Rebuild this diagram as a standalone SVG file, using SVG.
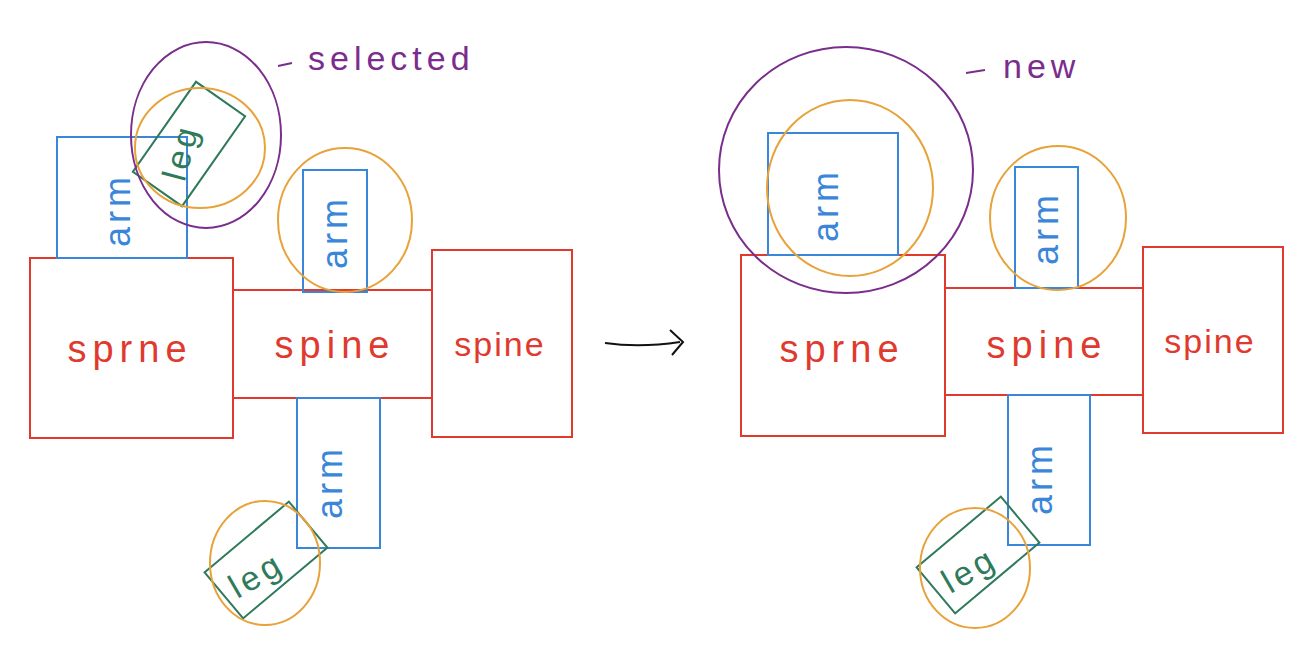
<svg xmlns="http://www.w3.org/2000/svg" width="1303" height="668" viewBox="0 0 1303 668">
<style>
.sp{fill:none;stroke:#e03a2f;stroke-width:2}
.ar{fill:none;stroke:#3a86d8;stroke-width:2}
.lg{fill:none;stroke:#2e7a5a;stroke-width:2}
.or{fill:none;stroke:#e8a23a;stroke-width:2}
.pu{fill:none;stroke:#7a2d8c;stroke-width:2}
.ts{font-family:"Liberation Sans",sans-serif;font-size:38px;fill:#e03a2f;letter-spacing:6px}
.ts2{font-family:"Liberation Sans",sans-serif;font-size:34px;fill:#e03a2f;letter-spacing:2px}
.ta{font-family:"Liberation Sans",sans-serif;font-size:36px;fill:#3a86d8;letter-spacing:4px}
.tl{font-family:"Liberation Sans",sans-serif;font-size:34px;fill:#2e7a5a;letter-spacing:4px}
.tp{font-family:"Liberation Sans",sans-serif;font-size:34px;fill:#7a2d8c;letter-spacing:5px}
</style>
<rect width="1303" height="668" fill="#fff"/>
<g id="left-spine1"><rect class="sp" x="30" y="258" width="203" height="180"/><text class="ts" x="130" y="362" text-anchor="middle">sprne</text></g>
<g id="left-spine2"><rect class="sp" x="233" y="290" width="199" height="108"/><text class="ts" x="335" y="358" text-anchor="middle">spine</text></g>
<g id="left-spine3"><rect class="sp" x="432" y="250" width="140" height="187"/><text class="ts2" x="500" y="356" text-anchor="middle">spine</text></g>
<g id="left-arm1"><rect class="ar" x="57" y="137" width="130" height="121"/><text class="ta" transform="translate(130,210) rotate(-90)" text-anchor="middle">arm</text></g>
<g id="left-leg1"><rect class="lg" x="-55" y="-30" width="110" height="60" transform="translate(189,144) rotate(-55)"/><text class="tl" transform="translate(192,155) rotate(-75)" text-anchor="middle">leg</text>
<ellipse class="or" cx="200" cy="148" rx="65" ry="60"/>
<ellipse class="pu" cx="206" cy="135" rx="75" ry="93"/>
<path class="pu" d="M278 66 L292 63"/><text class="tp" x="308" y="70">selected</text></g>
<g id="left-arm2"><rect class="ar" x="303" y="170" width="64" height="122"/><text class="ta" transform="translate(347,232) rotate(-90)" text-anchor="middle">arm</text><ellipse class="or" cx="345" cy="220" rx="67" ry="72"/></g>
<g id="left-arm3"><rect class="ar" x="297" y="398" width="83" height="150"/><text class="ta" transform="translate(342,482) rotate(-90)" text-anchor="middle">arm</text></g>
<g id="left-leg2"><rect class="lg" x="-55" y="-30" width="110" height="60" transform="translate(266,560) rotate(-40)"/><text class="tl" transform="translate(262,585) rotate(-30)" text-anchor="middle">leg</text><ellipse class="or" cx="265" cy="563" rx="55" ry="62"/></g>
<g id="connectors"><path d="M605 343 Q640 348 680 342" fill="none" stroke="#111" stroke-width="2"/><path d="M670 330 L683 342 L672 355" fill="none" stroke="#111" stroke-width="2"/></g>
<g id="right-spine1"><rect class="sp" x="741" y="255" width="204" height="181"/><text class="ts" x="842" y="362" text-anchor="middle">sprne</text></g>
<g id="right-spine2"><rect class="sp" x="945" y="288" width="198" height="107"/><text class="ts" x="1047" y="358" text-anchor="middle">spine</text></g>
<g id="right-spine3"><rect class="sp" x="1143" y="247" width="140" height="186"/><text class="ts2" x="1210" y="353" text-anchor="middle">spine</text></g>
<g id="right-arm1"><rect class="ar" x="768" y="133" width="130" height="122"/><text class="ta" transform="translate(838,205) rotate(-90)" text-anchor="middle">arm</text><ellipse class="or" cx="850" cy="188" rx="83" ry="88"/><ellipse class="pu" cx="846" cy="170" rx="127" ry="123"/><path class="pu" d="M966 73 L985 70"/><text class="tp" x="1003" y="78">new</text></g>
<g id="right-arm2"><rect class="ar" x="1015" y="167" width="63" height="121"/><text class="ta" transform="translate(1058,228) rotate(-90)" text-anchor="middle">arm</text><ellipse class="or" cx="1058" cy="218" rx="68" ry="72"/></g>
<g id="right-arm3"><rect class="ar" x="1008" y="395" width="82" height="150"/><text class="ta" transform="translate(1052,478) rotate(-90)" text-anchor="middle">arm</text></g>
<g id="right-leg2"><rect class="lg" x="-55" y="-30" width="110" height="60" transform="translate(978,555) rotate(-40)"/><text class="tl" transform="translate(975,580) rotate(-30)" text-anchor="middle">leg</text><ellipse class="or" cx="975" cy="568" rx="55" ry="60"/></g>
</svg>
